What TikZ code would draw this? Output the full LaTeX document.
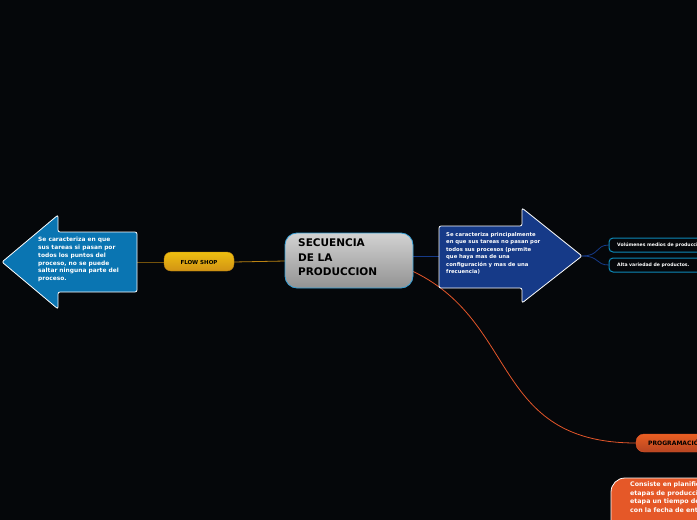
\documentclass[tikz,border=0pt]{standalone}
\usepackage{fontspec}
\setmainfont{DejaVu Sans}
\begin{document}
\begin{tikzpicture}[x=1pt,y=-1pt,
  small/.style={font=\bfseries\fontsize{5.9}{7.8}\selectfont,text=white,align=left,inner sep=0pt},
  pill/.style={rounded corners=7pt,font=\bfseries\fontsize{5.5}{6}\selectfont,text=black,inner sep=0pt}]
\definecolor{bg}{HTML}{05070A}
\definecolor{lblue}{HTML}{0A75B2}
\definecolor{dblue}{HTML}{163A88}
\definecolor{orng}{HTML}{E8A317}
\definecolor{red}{HTML}{E4562A}
\fill[bg] (0,0) rectangle (697,520);
\useasboundingbox (0,0) rectangle (697,520);
\clip (0,0) rectangle (697,520);
% connectors
\coordinate (cl) at (285,261);
\coordinate (cr) at (413,256);
\coordinate (cb) at (410,270);
\draw[orng!80!black,line width=0.8pt] (234,262) -- (cl);
\draw[orng!50!black,line width=0.8pt] (137,262) -- (164,262);
\draw[dblue,line width=1pt] (cr) -- (439,256);
\draw[red,line width=0.8pt] (cb) .. controls (520,320) and (490,443) .. (636,443);
\draw[dblue,line width=0.8pt] (582,256) .. controls (600,256) and (595,245) .. (609,245);
\draw[dblue,line width=0.8pt] (582,256) .. controls (600,256) and (595,265) .. (609,265);
% center
\draw[rounded corners=12pt,draw={rgb,255:red,60;green,140;blue,205},line width=0.8pt,top color=gray!35,bottom color=gray!85]
  (285,233) rectangle (413,288);
\node[anchor=north west,align=left,font=\bfseries\fontsize{10.5}{14.5}\selectfont,inner sep=0pt] (c) at (298,239) {SECUENCIA\\DE LA\\PRODUCCION};
% flow shop
\draw[pill,top color=orng!70!yellow,bottom color=orng!90!black,draw=orng!80!black] (164,252) rectangle (234,271);
\node[font=\bfseries\fontsize{5.5}{6}\selectfont] (fs) at (199,262) {FLOW SHOP};
% left arrow
\draw[fill=lblue,draw=white,line width=0.8pt,rounded corners=2pt] (2,262) -- (58,215) -- (58,232) -- (137,232) -- (137,292) -- (58,292) -- (58,309) -- cycle;
\node[small,anchor=north west] (la) at (38,237) {Se caracteriza en que\\sus tareas si pasan por\\todos los puntos del\\proceso, no se puede\\saltar ninguna parte del\\proceso.};
% right arrow
\draw[fill=dblue,draw=white,line width=0.8pt,rounded corners=2pt] (439,226) -- (522,226) -- (522,208) -- (582,256) -- (522,303) -- (522,288) -- (439,288) -- cycle;
\node[small,anchor=north west,font=\bfseries\fontsize{5.3}{7.5}\selectfont] (ra) at (446,232) {Se caracteriza principalmente\\en que sus tareas no pasan por\\todos sus procesos (permite\\que haya mas de una\\configuración y mas de una\\frecuencia)};
% small boxes
\draw[rounded corners=4pt,draw=dblue!60!cyan,line width=1pt,fill=bg] (609,238) rectangle (710,252);
\node[small,anchor=west,font=\bfseries\fontsize{4.6}{5}\selectfont] (b1) at (617,245) {Volúmenes medios de producción.};
\draw[rounded corners=4pt,draw=dblue!60!cyan,line width=1pt,fill=bg] (609,258) rectangle (710,272);
\node[small,anchor=west,font=\bfseries\fontsize{4.6}{5}\selectfont] (b2) at (617,265) {Alta variedad de productos.};
% programacion
\draw[rounded corners=8pt,top color=red!80!orange,bottom color=red!80!black,draw=red] (636,434) rectangle (720,452);
\node[anchor=west,font=\bfseries\fontsize{6}{6}\selectfont,inner sep=0pt] (pr) at (648,443) {PROGRAMACIÓN};
\draw[rounded corners=14pt,fill=red!95!orange,draw=white,line width=0.8pt] (611,478) rectangle (760,540);
\node[small,anchor=north west,font=\bfseries\fontsize{6.3}{8.5}\selectfont] (pd) at (630,482) {Consiste en planificar las\\etapas de producción, dando a cada\\etapa un tiempo de realización\\con la fecha de entrega};
\end{tikzpicture}
\end{document}
